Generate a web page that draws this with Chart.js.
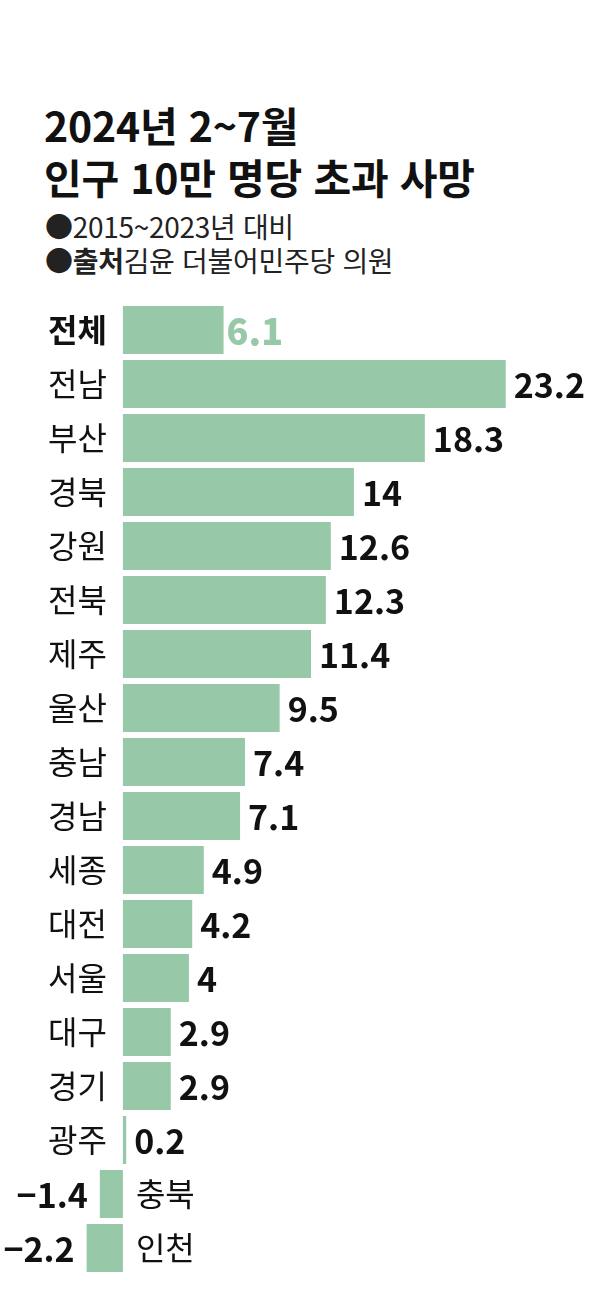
<!DOCTYPE html>
<html lang="ko">
<head>
  <meta charset="UTF-8">
  <title>초과 사망</title>
  <script src="https://cdn.jsdelivr.net/npm/chart.js"></script>
  <style>
    body{
      margin: 0;
      width: 589px;
      height: 1294px;
      background: #fff;
      font-family: "Noto Sans CJK KR", "Noto Sans", sans-serif;
      color: #111;
      position: relative;
      overflow: hidden;
    }
    #title{
      position: absolute;
      left: 44px;
      top: 98px;
      font-size: 41px;
      font-weight: 700;
      line-height: 52px;
      letter-spacing: -0.2px;
    }
    #sub{
      position: absolute;
      left: 45px;
      top: 209px;
      font-size: 28px;
      line-height: 34px;
      letter-spacing: -0.3px;
      color: #222;
    }
    #wrap{
      position: absolute;
      left: 0;
      top: 303px;
      width: 589px;
      height: 972px;
    }
  </style>
</head>
<body>
  <div id="title">2024년 2~7월<br>인구 10만 명당 초과 사망</div>
  <div id="sub">●2015~2023년 대비<br>●<b>출처</b>김윤 더불어민주당 의원</div>
  <div id="wrap"><canvas id="chart"></canvas></div>

<script>
  const regions = ['전체', '전남', '부산', '경북', '강원', '전북', '제주', '울산', '충남',
                   '경남', '세종', '대전', '서울', '대구', '경기', '광주', '충북', '인천'];
  const excessDeaths = [6.1, 23.2, 18.3, 14, 12.6, 12.3, 11.4, 9.5, 7.4,
                        7.1, 4.9, 4.2, 4, 2.9, 2.9, 0.2, -1.4, -2.2];
  const valueLabels = ['6.1', '23.2', '18.3', '14', '12.6', '12.3', '11.4', '9.5', '7.4',
                       '7.1', '4.9', '4.2', '4', '2.9', '2.9', '0.2', '−1.4', '−2.2'];

  const barColor = '#97c8a8';
  const font = '"Noto Sans CJK KR", "Noto Sans", sans-serif';

  // draws region names and values next to each bar
  const labelPlugin = {
    id: 'labels',
    afterDatasetsDraw(chart) {
      const ctx = chart.ctx;
      const meta = chart.getDatasetMeta(0);
      const zero = chart.scales.x.getPixelForValue(0);
      ctx.save();
      ctx.textBaseline = 'middle';
      meta.data.forEach((bar, i) => {
        const v = excessDeaths[i];
        const y = bar.y;
        ctx.fillStyle = '#111';
        if (i === 0) {
          ctx.textAlign = 'right';
          ctx.font = '700 32px ' + font;
          ctx.fillText(regions[i], zero - 16, y);
          ctx.textAlign = 'left';
          ctx.font = '900 36px ' + font;
          ctx.fillStyle = barColor;
          ctx.fillText(valueLabels[i], bar.x + 3, y + 1);
        } else if (v >= 0) {
          ctx.textAlign = 'right';
          ctx.font = '400 32px ' + font;
          ctx.fillText(regions[i], zero - 16, y);
          ctx.textAlign = 'left';
          ctx.font = '600 34px ' + font;
          ctx.fillText(valueLabels[i], bar.x + 8, y + 1);
        } else {
          ctx.textAlign = 'left';
          ctx.font = '400 32px ' + font;
          ctx.fillText(regions[i], zero + 13, y);
          ctx.textAlign = 'right';
          ctx.font = '600 34px ' + font;
          ctx.fillText(valueLabels[i], bar.x - 12, y + 1);
        }
      });
      ctx.restore();
    }
  };

  new Chart(document.getElementById('chart'), {
    type: 'bar',
    data: {
      labels: regions,
      datasets: [{
        data: excessDeaths,
        backgroundColor: barColor,
        borderWidth: 0,
        barPercentage: 0.89,
        categoryPercentage: 1
      }]
    },
    options: {
      indexAxis: 'y',
      responsive: true,
      maintainAspectRatio: false,
      animation: false,
      layout: { padding: 0 },
      plugins: {
        legend: { display: false },
        tooltip: { enabled: false }
      },
      scales: {
        x: { display: false, min: -7.45, max: 28.25 },
        y: { display: false }
      }
    },
    plugins: [labelPlugin]
  });
</script>
</body>
</html>
